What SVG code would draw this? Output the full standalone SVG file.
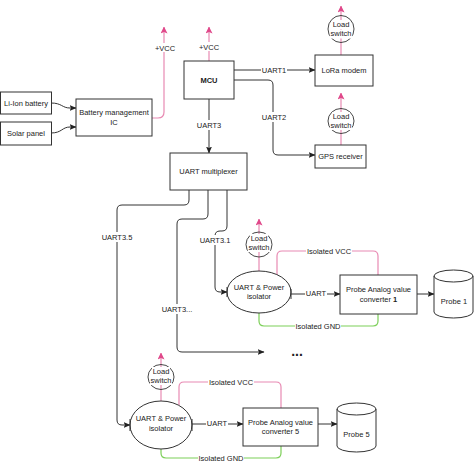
<svg xmlns="http://www.w3.org/2000/svg" width="474" height="464" viewBox="0 0 474 464">
<defs>
<style>
text{font-family:"Liberation Sans",Arial,sans-serif;font-size:7.5px;fill:#222;text-anchor:middle;dominant-baseline:central}
.box{fill:#fff;stroke:#333;stroke-width:1}
.bold{font-weight:bold}
.ln{fill:none;stroke:#333;stroke-width:1}
.pk{fill:none;stroke:#e88ab3;stroke-width:1.2}
.gr{fill:none;stroke:#7ccf58;stroke-width:1.2}
.bg{fill:#fff}
.ls{fill:none;stroke:#333;stroke-width:0.9}
</style>
<marker id="ab" markerWidth="7" markerHeight="6" refX="6.5" refY="3" orient="auto" markerUnits="userSpaceOnUse">
<path d="M0,0 L7,3 L0,6 L1.5,3 Z" fill="#222"/>
</marker>
<marker id="ap" markerWidth="7" markerHeight="7" refX="6.5" refY="3.5" orient="auto" markerUnits="userSpaceOnUse">
<path d="M0,0 L7,3.5 L0,7 L1.5,3.5 Z" fill="#e0488a"/>
</marker>
</defs>
<rect width="474" height="464" fill="#fff"/>

<g id="connectors">
<path class="ln" d="M51,103 C62,103 62,108 70,108 H76" marker-end="url(#ab)"/>
<path class="ln" d="M51,133 C62,133 62,127 70,127 H76" marker-end="url(#ab)"/>
<path class="pk" d="M152,118 H158 Q164,118 164,112 V27" marker-end="url(#ap)"/>
<path class="pk" d="M209,61 V27" marker-end="url(#ap)"/>
<path class="ln" d="M209,99 V153" marker-end="url(#ab)"/>
<path class="ln" d="M234,70 H315" marker-end="url(#ab)"/>
<path class="ln" d="M234,80 H268 Q273,80 273,85 V150 Q273,155 278,155 H315" marker-end="url(#ab)"/>
<path class="pk" d="M341,55 V6" marker-end="url(#ap)"/>
<path class="pk" d="M341,145 V93" marker-end="url(#ap)"/>
<path class="ln" d="M189,190 V200 Q189,205 184,205 H122 Q117,205 117,210 V420 Q117,425 122,425 H130" marker-end="url(#ab)"/>
<path class="ln" d="M208,190 V214 Q208,219 203,219 H182 Q177,219 177,224 V347 Q177,352 182,352 H264" marker-end="url(#ab)"/>
<path class="ln" d="M227,190 V226 Q227,231 222,231 H220 Q215,231 215,236 V287 Q215,292 220,292 H227" marker-end="url(#ab)"/>
<path class="pk" d="M259,271 V219" marker-end="url(#ap)"/>
<path class="pk" d="M277,275 V256 Q277,251 282,251 H373 Q378,251 378,256 V275"/>
<path class="ln" d="M291,294 H340" marker-end="url(#ab)"/>
<path class="gr" d="M259,313 V321 Q259,326 264,326 H373 Q378,326 378,321 V314"/>
<path class="ln" d="M417,294 H434" marker-end="url(#ab)"/>
<path class="pk" d="M161,401 V353" marker-end="url(#ap)"/>
<path class="pk" d="M179,405 V387 Q179,382 184,382 H276 Q281,382 281,387 V408"/>
<path class="ln" d="M192,424 H243" marker-end="url(#ab)"/>
<path class="gr" d="M161,449 V453 Q161,458 166,458 H276 Q281,458 281,453 V446"/>
<path class="ln" d="M318,424 H337" marker-end="url(#ab)"/>
<g id="connector-labels">
<rect class="bg" x="154" y="43" width="22" height="9"/><text x="165" y="48">+VCC</text>
<rect class="bg" x="198" y="42" width="22" height="9"/><text x="209" y="47">+VCC</text>
<rect class="bg" x="196" y="120" width="26" height="10"/><text x="209" y="125">UART3</text>
<rect class="bg" x="261" y="65" width="26" height="10"/><text x="274" y="70">UART1</text>
<rect class="bg" x="261" y="112" width="26" height="10"/><text x="274" y="117">UART2</text>
<rect class="bg" x="101" y="232" width="32" height="10"/><text x="117" y="237">UART3.5</text>
<rect class="bg" x="161" y="304" width="32" height="10"/><text x="177" y="309">UART3...</text>
<rect class="bg" x="199" y="235" width="32" height="10"/><text x="215" y="240">UART3.1</text>
<rect class="bg" x="305" y="289" width="22" height="9"/><text x="316" y="293.5">UART</text>
<rect class="bg" x="306" y="246" width="46" height="10"/><text x="329" y="251">Isolated VCC</text>
<rect class="bg" x="295" y="321" width="46" height="10"/><text x="318" y="326">Isolated GND</text>
<rect class="bg" x="206" y="419" width="22" height="9"/><text x="217" y="423.5">UART</text>
<rect class="bg" x="208" y="377" width="46" height="10"/><text x="231" y="382">Isolated VCC</text>
<rect class="bg" x="198" y="453" width="46" height="10"/><text x="221" y="458">Isolated GND</text>
</g>
</g>

<g id="li-ion-battery"><rect class="box" x="0.5" y="92" width="51" height="22"/><text x="26" y="103">Li-Ion battery</text></g>
<g id="solar-panel"><rect class="box" x="0.5" y="122" width="51" height="23"/><text x="26" y="133.5">Solar panel</text></g>
<g id="battery-management"><rect class="box" x="76" y="99" width="76" height="37"/><text x="114" y="112.5">Battery management</text><text x="114" y="122.5">IC</text></g>
<g id="mcu"><rect class="box" x="184" y="61" width="50" height="38"/><text class="bold" x="209" y="80">MCU</text></g>
<g id="lora"><rect class="box" x="315" y="55" width="58" height="31"/><text x="344" y="70.5">LoRa modem</text></g>
<g id="gps"><rect class="box" x="315" y="145" width="51" height="23"/><text x="340.5" y="156.5">GPS receiver</text></g>
<g id="load-switch-lora"><ellipse class="ls" cx="341" cy="29" rx="13" ry="13.5" fill="#fff"/><rect class="bg" x="332" y="20" width="18" height="9"/><rect class="bg" x="330" y="29.5" width="22" height="9"/><text x="341" y="24.5">Load</text><text x="341" y="33.5">switch</text></g>
<g id="load-switch-gps"><ellipse class="ls" cx="341" cy="121" rx="13" ry="12.5" fill="#fff"/><rect class="bg" x="332" y="112" width="18" height="9"/><rect class="bg" x="330" y="121" width="22" height="9"/><text x="341" y="116.5">Load</text><text x="341" y="125.5">switch</text></g>
<g id="uart-multiplexer"><rect class="box" x="170" y="153" width="77" height="37"/><text x="208.5" y="171.5">UART multiplexer</text></g>

<g id="isolator-1"><ellipse class="box" cx="259" cy="292" rx="32" ry="21"/><path class="ln" d="M227,287 V297 M291,289 V299"/><text x="259" y="287">UART &amp; Power</text><text x="259" y="296.5">isolator</text></g>
<g id="load-switch-1"><ellipse class="ls" cx="259" cy="244.5" rx="13" ry="12.5" fill="#fff"/><rect class="bg" x="250" y="234" width="18" height="8.5"/><rect class="bg" x="248" y="243" width="22" height="9"/><text x="259" y="238.5">Load</text><text x="259" y="247.5">switch</text></g>
<g id="converter-1"><rect class="box" x="340" y="275" width="77" height="39"/><text x="378.5" y="289">Probe Analog value</text><text x="378.5" y="299">converter <tspan class="bold">1</tspan></text></g>
<g id="probe-1"><path class="box" d="M434,276 A19.5,6 0 0 1 473,276 V312 A19.5,6 0 0 1 434,312 Z"/><path class="ln" d="M434,276 A19.5,6 0 0 0 473,276"/><text x="454" y="301">Probe 1</text></g>
<g id="more"><text class="bold" x="297" y="351" style="font-size:14px">...</text></g>

<g id="isolator-5"><ellipse class="box" cx="161" cy="425" rx="31" ry="24"/><path class="ln" d="M130,419 V431 M192,419 V431"/><text x="161" y="418.5">UART &amp; Power</text><text x="161" y="428">isolator</text></g>
<g id="load-switch-5"><ellipse class="ls" cx="161" cy="377" rx="13" ry="12.5" fill="#fff"/><rect class="bg" x="152" y="367" width="18" height="8.5"/><rect class="bg" x="150" y="376" width="22" height="9"/><text x="161" y="371.5">Load</text><text x="161" y="380.5">switch</text></g>
<g id="converter-5"><rect class="box" x="243" y="408" width="75" height="38"/><text x="280.5" y="422">Probe Analog value</text><text x="280.5" y="431.5">converter 5</text></g>
<g id="probe-5"><path class="box" d="M337,409 A19.5,6 0 0 1 376,409 V446 A19.5,6 0 0 1 337,446 Z"/><path class="ln" d="M337,409 A19.5,6 0 0 0 376,409"/><text x="356.5" y="434">Probe 5</text></g>
</svg>
